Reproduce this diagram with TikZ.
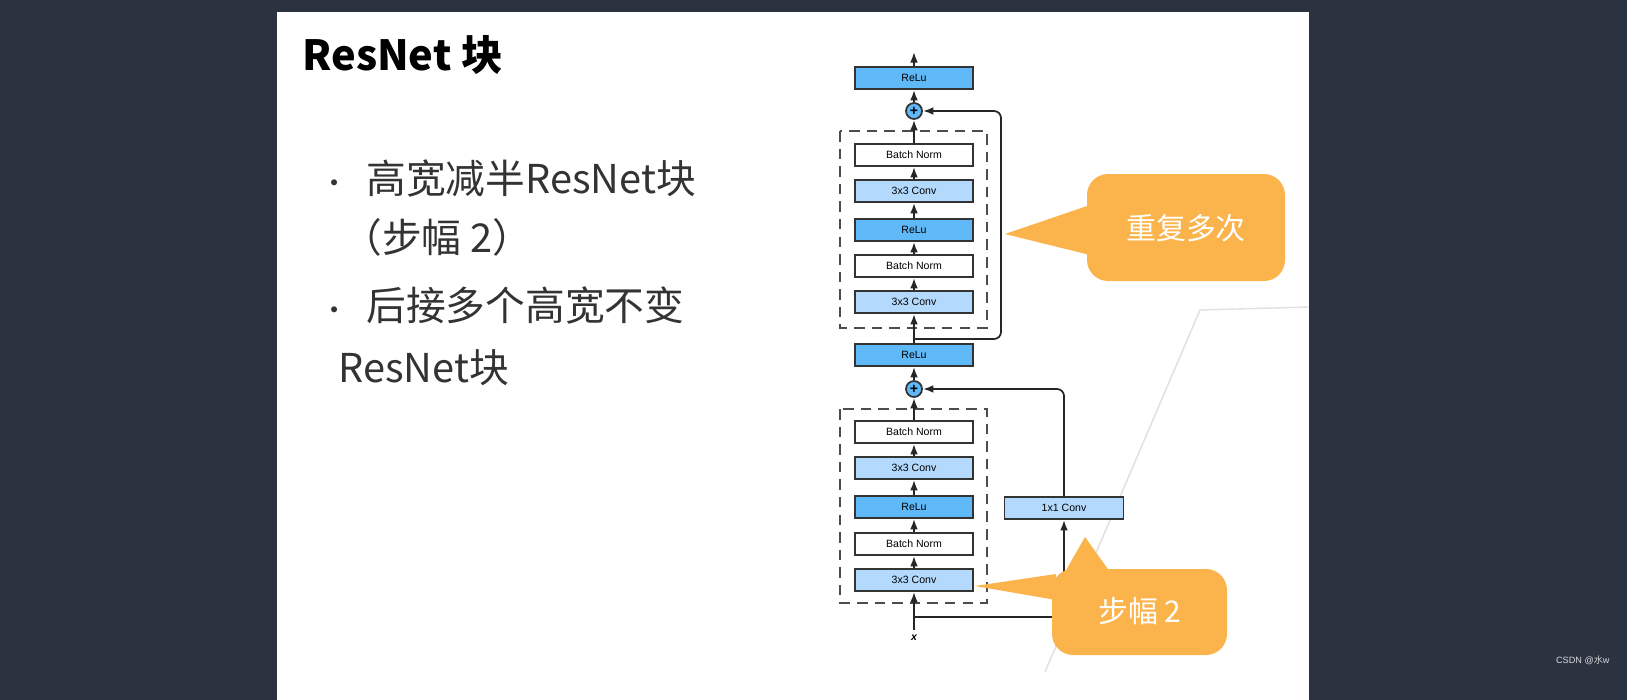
\documentclass[tikz,border=0pt]{standalone}
\usepackage{fontspec}
\setmainfont{Liberation Sans}
\newfontfamily\cjk{Noto Sans CJK SC}
\usetikzlibrary{arrows.meta}
\definecolor{bg}{HTML}{2B3340}
\definecolor{dblue}{HTML}{5FB8F8}
\definecolor{lblue}{HTML}{B3DAFD}
\definecolor{org}{HTML}{FBB44C}
\begin{document}
\begin{tikzpicture}[x=0.01cm,y=-0.01cm,
  blk/.style={draw=black!80,line width=0.5pt,minimum width=118*0.01cm,minimum height=22*0.01cm,inner sep=0pt,font=\fontsize{3}{3}\selectfont},
  bn/.style={blk,fill=white},
  cv/.style={blk,fill=lblue},
  rl/.style={blk,fill=dblue},
  pl/.style={circle,draw=black!80,fill=dblue,line width=0.5pt,minimum size=16*0.01cm,inner sep=0pt,font=\fontsize{4}{4}\selectfont\bfseries},
  ar/.style={-{Latex[length=3pt,width=2.2pt]},line width=0.5pt,black!85},
  dsh/.style={draw=black!70,dashed,line width=0.6pt,dash pattern=on 3pt off 2pt},
  slide/.style={font=\cjk\fontsize{11.3}{13}\selectfont,anchor=west,text=black!80}]
\fill[bg] (0,0) rectangle (1627,700);
\fill[white] (277,12) rectangle (1309,700);
\useasboundingbox (0,0) rectangle (1627,700);
% faint lines
\draw[black!12,line width=0.4pt] (1309,307) -- (1200,310) -- (1045,672);
% title and bullets
\node[font=\cjk\bfseries\fontsize{11.8}{13}\selectfont,anchor=west] (title) at (290,55) {ResNet 块};
\node[slide] (b1) at (308,178) {{\fontsize{8}{8}\selectfont·}\ \ 高宽减半ResNet块};
\node[slide] (b1b) at (330,237) {（步幅 2）};
\node[slide] (b2) at (308,305) {{\fontsize{8}{8}\selectfont·}\ \ 后接多个高宽不变};
\node[slide] (b2b) at (326,368) {ResNet块};
\node[font=\fontsize{2.6}{3}\selectfont,text=white!85!black,anchor=east] (wm) at (1622,660) {CSDN @{\cjk 水}w};
% top block
\node[rl] (r3) at (914,78) {ReLu};
\node[pl] (p2) at (914,111) {+};
\node[bn] (t5) at (914,155) {Batch Norm};
\node[cv] (t4) at (914,191) {3x3 Conv};
\node[rl] (t3) at (914,230) {ReLu};
\node[bn] (t2) at (914,266) {Batch Norm};
\node[cv] (t1) at (914,302) {3x3 Conv};
\draw[dsh] (840,131) rectangle (987,328);
\node[rl] (r2) at (914,355) {ReLu};
\node[pl] (p1) at (914,389) {+};
\node[bn] (s5) at (914,432) {Batch Norm};
\node[cv] (s4) at (914,468) {3x3 Conv};
\node[rl] (s3) at (914,507) {ReLu};
\node[bn] (s2) at (914,544) {Batch Norm};
\node[cv] (s1) at (914,580) {3x3 Conv};
\draw[dsh] (840,409) rectangle (987,603);
\node[cv,minimum width=119*0.01cm] (c1) at (1064,508) {1x1 Conv};
\node[font=\fontsize{3}{3}\selectfont\itshape\bfseries] (x) at (914,638) {x};
\coordinate (out) at (914,52);
\coordinate (xs) at (914,630);
\coordinate (j1) at (914,617);
\coordinate (j2) at (914,339);
% arrows
\draw[ar] (r3) -- (out);
\draw[ar] (p2) -- (r3);
\draw[ar] (t5) -- (p2);
\draw[ar] (t4) -- (t5);
\draw[ar] (t3) -- (t4);
\draw[ar] (t2) -- (t3);
\draw[ar] (t1) -- (t2);
\draw[ar] (r2) -- (t1);
\draw[ar] (p1) -- (r2);
\draw[ar] (s5) -- (p1);
\draw[ar] (s4) -- (s5);
\draw[ar] (s3) -- (s4);
\draw[ar] (s2) -- (s3);
\draw[ar] (s1) -- (s2);
\draw[ar] (xs) -- (s1);
\draw[ar,rounded corners=2pt] (j2) -| (1001,111) -- (p2);
\draw[ar,rounded corners=2pt] (j1) -| (c1);
\draw[ar,rounded corners=2pt] (c1) |- (p1);
% callouts
\fill[org,rounded corners=6pt] (1087,174) rectangle (1285,281);
\fill[org] (1005,234) -- (1090,205) -- (1090,255) -- cycle;
\node[font=\cjk\fontsize{8.5}{10}\selectfont,text=white] (cl1) at (1186,228) {重复多次};
\fill[org,rounded corners=6pt] (1052,569) rectangle (1227,655);
\fill[org] (975,586) -- (1056,574) -- (1056,600) -- cycle;
\fill[org] (1085,537) -- (1065,572) -- (1110,572) -- cycle;
\node[font=\cjk\fontsize{8.5}{10}\selectfont,text=white] (cl2) at (1140,611) {步幅 2};
\end{tikzpicture}
\end{document}
